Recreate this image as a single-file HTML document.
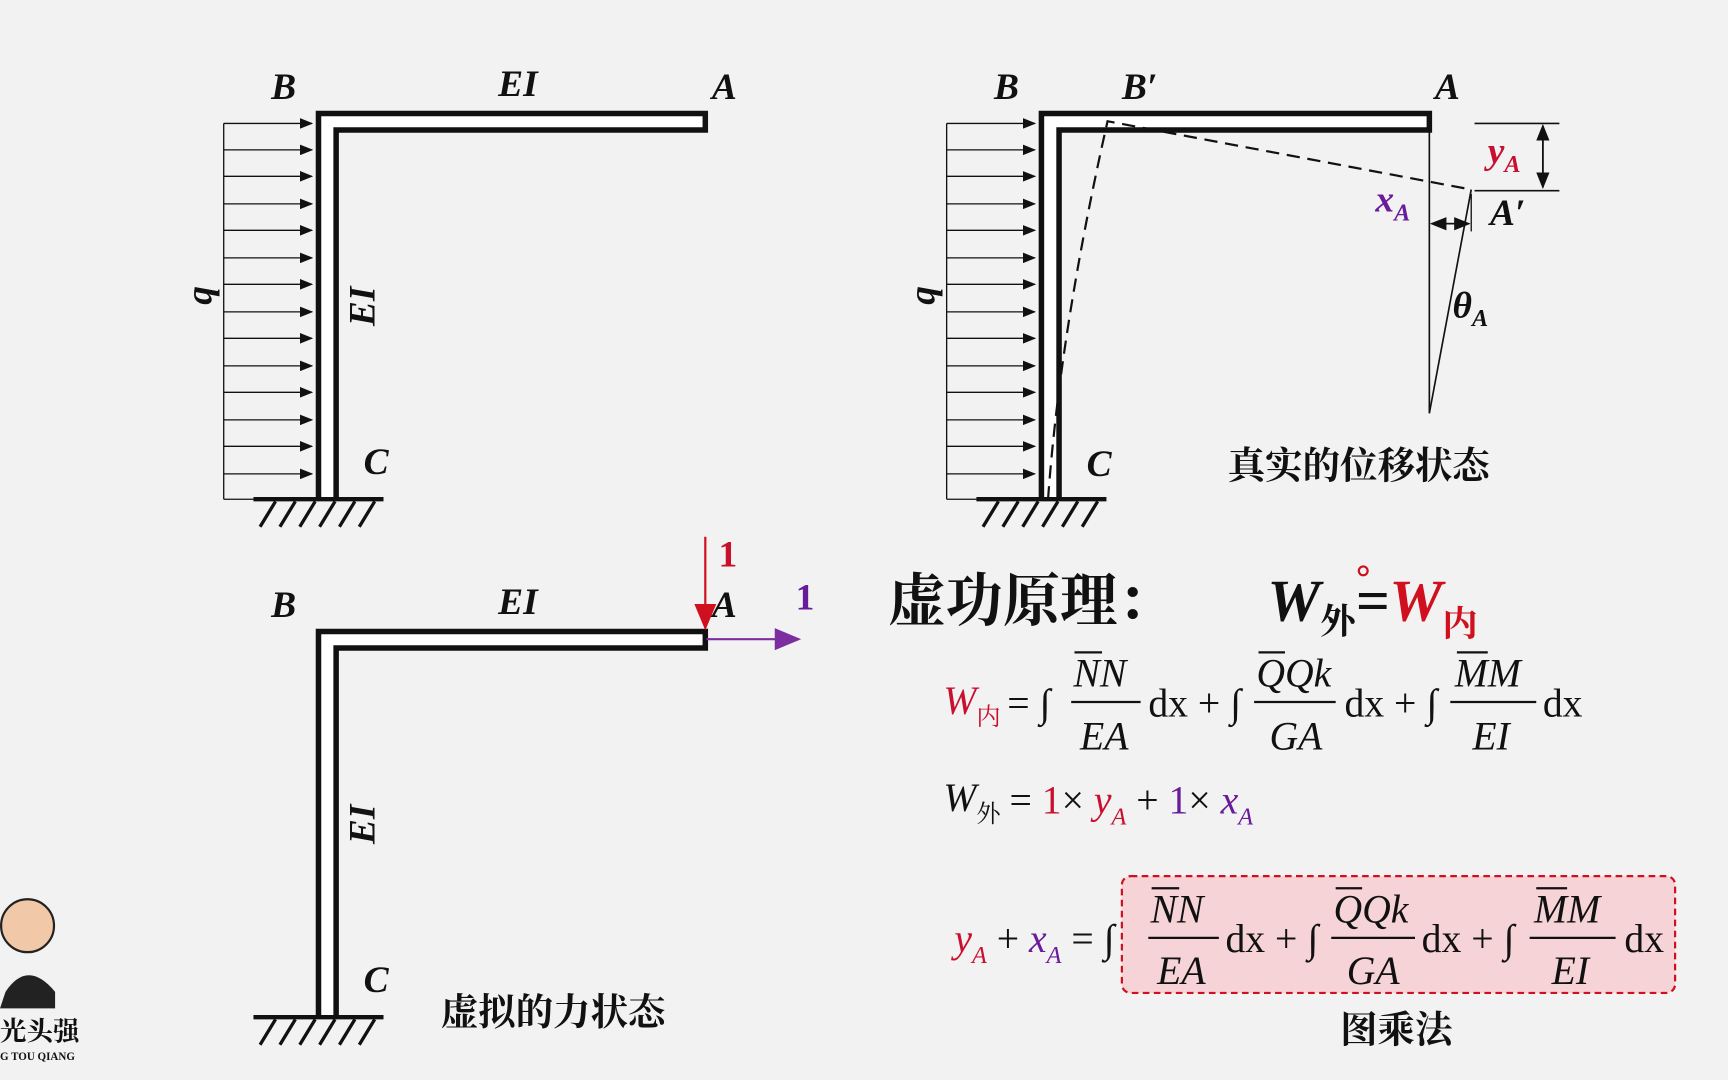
<!DOCTYPE html>
<html><head><meta charset="utf-8"><style>
html,body{margin:0;padding:0;background:#f2f2f2;}
svg{display:block;}
text{font-family:"Liberation Serif","Noto Serif CJK SC",serif;}
.lb{font-weight:bold;font-style:italic;font-size:34px;fill:#111;}
.cn{font-family:"Liberation Serif","Noto Serif CJK SC",serif;font-size:34px;fill:#111;font-weight:bold;}
.f{font-style:italic;font-size:36px;fill:#111;}
.r{fill:#c8102e;}
.p{fill:#6a1b9a;}
</style></head><body>
<svg width="1728" height="1080" viewBox="0 0 1568 980" xmlns="http://www.w3.org/2000/svg">
<defs>
<marker id="ah" markerWidth="10" markerHeight="8" refX="9" refY="4" orient="auto"><path d="M0,0 L10,4 L0,8 z" fill="#111"/></marker>
<marker id="ar" markerWidth="12" markerHeight="10" refX="11" refY="5" orient="auto"><path d="M0,0 L12,5 L0,10 z" fill="#d0101e"/></marker>
<marker id="ap" markerWidth="12" markerHeight="10" refX="11" refY="5" orient="auto"><path d="M0,0 L12,5 L0,10 z" fill="#7b2ea0"/></marker>
<g id="frame">
<path d="M289,453 L289,103 L640,103 L640,118 L305,118 L305,453" fill="#fff" stroke="#111" stroke-width="5"/>
<line x1="230" y1="453" x2="348" y2="453" stroke="#111" stroke-width="4"/>
<g stroke="#111" stroke-width="3">
<line x1="250" y1="455" x2="236" y2="478"/><line x1="268" y1="455" x2="254" y2="478"/><line x1="286" y1="455" x2="272" y2="478"/><line x1="304" y1="455" x2="290" y2="478"/><line x1="322" y1="455" x2="308" y2="478"/><line x1="340" y1="455" x2="326" y2="478"/>
</g>
</g>
<g id="load" stroke="#111" stroke-width="1.2">
<line x1="203" y1="112" x2="203" y2="453"/>
<line x1="203" y1="112" x2="283" y2="112" marker-end="url(#ah)"/>
<line x1="203" y1="136" x2="283" y2="136" marker-end="url(#ah)"/>
<line x1="203" y1="160" x2="283" y2="160" marker-end="url(#ah)"/>
<line x1="203" y1="185" x2="283" y2="185" marker-end="url(#ah)"/>
<line x1="203" y1="209" x2="283" y2="209" marker-end="url(#ah)"/>
<line x1="203" y1="234" x2="283" y2="234" marker-end="url(#ah)"/>
<line x1="203" y1="258" x2="283" y2="258" marker-end="url(#ah)"/>
<line x1="203" y1="283" x2="283" y2="283" marker-end="url(#ah)"/>
<line x1="203" y1="307" x2="283" y2="307" marker-end="url(#ah)"/>
<line x1="203" y1="332" x2="283" y2="332" marker-end="url(#ah)"/>
<line x1="203" y1="356" x2="283" y2="356" marker-end="url(#ah)"/>
<line x1="203" y1="381" x2="283" y2="381" marker-end="url(#ah)"/>
<line x1="203" y1="405" x2="283" y2="405" marker-end="url(#ah)"/>
<line x1="203" y1="430" x2="283" y2="430" marker-end="url(#ah)"/>
<line x1="203" y1="453" x2="283" y2="453"/>
</g>
</defs>

<use href="#frame"/><use href="#load"/>
<text class="lb" x="246" y="90">B</text>
<text class="lb" x="452" y="87">EI</text>
<text class="lb" x="646" y="90">A</text>
<text class="lb" x="330" y="430">C</text>
<text class="lb" transform="translate(192,268) rotate(-90)" text-anchor="middle">q</text>
<text class="lb" transform="translate(340,278) rotate(-90)" text-anchor="middle">EI</text>

<g transform="translate(656,0)"><path d="M289,453 L289,103 L641,103 L641,118 L305,118 L305,453" fill="#fff" stroke="#111" stroke-width="5"/>
<line x1="230" y1="453" x2="348" y2="453" stroke="#111" stroke-width="4"/>
<g stroke="#111" stroke-width="3"><line x1="250" y1="455" x2="236" y2="478"/><line x1="268" y1="455" x2="254" y2="478"/><line x1="286" y1="455" x2="272" y2="478"/><line x1="304" y1="455" x2="290" y2="478"/><line x1="322" y1="455" x2="308" y2="478"/><line x1="340" y1="455" x2="326" y2="478"/></g>
<use href="#load"/></g>
<path d="M951,453 Q962,300 1005,110 L1335,172" fill="none" stroke="#111" stroke-width="2" stroke-dasharray="12,7"/>
<line x1="1297" y1="118" x2="1297" y2="375" stroke="#111" stroke-width="1.5"/>
<line x1="1335" y1="172" x2="1297" y2="375" stroke="#111" stroke-width="1.5"/>
<line x1="1338" y1="112" x2="1415" y2="112" stroke="#111" stroke-width="1.5"/>
<line x1="1338" y1="173" x2="1415" y2="173" stroke="#111" stroke-width="1.5"/>
<line x1="1400" y1="116" x2="1400" y2="170" stroke="#111" stroke-width="1.5" marker-end="url(#ah)"/>
<line x1="1400" y1="168" x2="1400" y2="114" stroke="#111" stroke-width="1.5" marker-end="url(#ah)"/>
<line x1="1300" y1="203" x2="1333" y2="203" stroke="#111" stroke-width="1.5" marker-end="url(#ah)"/>
<line x1="1330" y1="203" x2="1299" y2="203" stroke="#111" stroke-width="1.5" marker-end="url(#ah)"/>
<line x1="1335" y1="176" x2="1335" y2="210" stroke="#111" stroke-width="1.2"/>
<text class="lb" x="902" y="90">B</text>
<text class="lb" x="1018" y="90">B′</text>
<text class="lb" x="1302" y="90">A</text>
<text class="lb" x="986" y="432">C</text>
<text class="lb" transform="translate(848,268) rotate(-90)" text-anchor="middle">q</text>
<text class="lb r" x="1350" y="148">y<tspan style="font-size:22px" dy="8">A</tspan></text>
<text class="lb" x="1352" y="204">A′</text>
<text class="lb p" x="1248" y="192">x<tspan style="font-size:22px" dy="8">A</tspan></text>
<text class="lb" x="1318" y="288">θ<tspan style="font-size:22px" dy="8">A</tspan></text>
<text class="cn" x="1114" y="434">真实的位移状态</text>

<g transform="translate(0,470)"><path d="M289,453 L289,103 L640,103 L640,118 L305,118 L305,453" fill="#fff" stroke="#111" stroke-width="5"/>
<line x1="230" y1="453" x2="348" y2="453" stroke="#111" stroke-width="4"/>
<g stroke="#111" stroke-width="3"><line x1="250" y1="455" x2="236" y2="478"/><line x1="268" y1="455" x2="254" y2="478"/><line x1="286" y1="455" x2="272" y2="478"/><line x1="304" y1="455" x2="290" y2="478"/><line x1="322" y1="455" x2="308" y2="478"/><line x1="340" y1="455" x2="326" y2="478"/></g></g>
<text class="lb" x="246" y="560">B</text>
<text class="lb" x="452" y="557">EI</text>
<text class="lb" x="646" y="560">A</text>
<text class="lb" x="330" y="900">C</text>
<text class="lb" transform="translate(340,748) rotate(-90)" text-anchor="middle">EI</text>
<line x1="640" y1="487" x2="640" y2="570" stroke="#d0101e" stroke-width="2" marker-end="url(#ar)"/>
<text x="652" y="514" font-weight="bold" font-size="34" class="r">1</text>
<line x1="641" y1="580" x2="725" y2="580" stroke="#7b2ea0" stroke-width="2" marker-end="url(#ap)"/>
<text x="722" y="553" font-weight="bold" font-size="34" class="p">1</text>
<text class="cn" x="400" y="930">虚拟的力状态</text>

<text x="806" y="563" font-size="52" font-weight="bold" fill="#111">虚功原理：</text>
<text x="1150" y="563" font-size="54" font-weight="bold" font-style="italic" fill="#111">W<tspan font-size="32" font-style="normal" dy="12">外</tspan><tspan dy="-12" fill="#111">=</tspan><tspan fill="#d0101e">W</tspan><tspan fill="#d0101e" font-size="32" font-style="normal" dy="14">内</tspan></text>
<circle cx="1237" cy="518" r="4" fill="none" stroke="#d0101e" stroke-width="2"/>

<g font-size="36">
<text x="856" y="648" class="f r">W<tspan style="font-size:22px;font-style:normal" dy="10">内</tspan></text>
<text x="914" y="650" fill="#111">= ∫</text>
<text x="974" y="623" class="f">NN</text><line x1="975" y1="592" x2="1000" y2="592" stroke="#111" stroke-width="2"/>
<line x1="972" y1="637" x2="1035" y2="637" stroke="#111" stroke-width="2"/>
<text x="980" y="680" class="f">EA</text>
<text x="1042" y="650" fill="#111">dx + ∫</text>
<text x="1140" y="623" class="f">QQk</text><line x1="1142" y1="592" x2="1166" y2="592" stroke="#111" stroke-width="2"/>
<line x1="1138" y1="637" x2="1212" y2="637" stroke="#111" stroke-width="2"/>
<text x="1152" y="680" class="f">GA</text>
<text x="1220" y="650" fill="#111">dx + ∫</text>
<text x="1320" y="623" class="f">MM</text><line x1="1322" y1="592" x2="1350" y2="592" stroke="#111" stroke-width="2"/>
<line x1="1316" y1="637" x2="1394" y2="637" stroke="#111" stroke-width="2"/>
<text x="1336" y="680" class="f">EI</text>
<text x="1400" y="650" fill="#111">dx</text>

<text x="856" y="736" class="f">W<tspan style="font-size:22px;font-style:normal" dy="10">外</tspan></text>
<text x="916" y="738" fill="#111">= <tspan class="r">1</tspan>× <tspan class="f r">y</tspan><tspan class="r" style="font-size:22px;font-style:italic" dy="10">A</tspan><tspan dy="-10"> + </tspan><tspan class="p">1</tspan>× <tspan class="f p">x</tspan><tspan class="p" style="font-size:22px;font-style:italic" dy="10">A</tspan></text>

<rect x="1018" y="795" width="502" height="106" rx="8" fill="#f6d3d7" stroke="#d0101e" stroke-width="2" stroke-dasharray="6,4"/>
<text x="866" y="864" fill="#111"><tspan class="f r">y</tspan><tspan class="r" style="font-size:22px;font-style:italic" dy="10">A</tspan><tspan dy="-10"> + </tspan><tspan class="f p">x</tspan><tspan class="p" style="font-size:22px;font-style:italic" dy="10">A</tspan><tspan dy="-10"> = ∫</tspan></text>
<text x="1044" y="837" class="f">NN</text><line x1="1045" y1="806" x2="1070" y2="806" stroke="#111" stroke-width="2"/>
<line x1="1042" y1="851" x2="1106" y2="851" stroke="#111" stroke-width="2"/>
<text x="1050" y="893" class="f">EA</text>
<text x="1112" y="864" fill="#111">dx + ∫</text>
<text x="1210" y="837" class="f">QQk</text><line x1="1212" y1="806" x2="1236" y2="806" stroke="#111" stroke-width="2"/>
<line x1="1208" y1="851" x2="1284" y2="851" stroke="#111" stroke-width="2"/>
<text x="1222" y="893" class="f">GA</text>
<text x="1290" y="864" fill="#111">dx + ∫</text>
<text x="1392" y="837" class="f">MM</text><line x1="1394" y1="806" x2="1422" y2="806" stroke="#111" stroke-width="2"/>
<line x1="1388" y1="851" x2="1466" y2="851" stroke="#111" stroke-width="2"/>
<text x="1408" y="893" class="f">EI</text>
<text x="1474" y="864" fill="#111">dx</text>
</g>
<text class="cn" x="1216" y="946">图乘法</text>

<circle cx="25" cy="840" r="24" fill="#f1c9a8" stroke="#222" stroke-width="2"/>
<path d="M5,900 Q25,870 50,900 L50,915 L0,915 z" fill="#222"/>
<text x="0" y="944" font-size="24" font-weight="bold" fill="#111" font-family="Noto Sans CJK SC, sans-serif">光头强</text>
<text x="0" y="962" font-size="10" font-weight="bold" fill="#111" font-family="Liberation Sans, sans-serif">G TOU QIANG</text>
</svg>
</body></html>
